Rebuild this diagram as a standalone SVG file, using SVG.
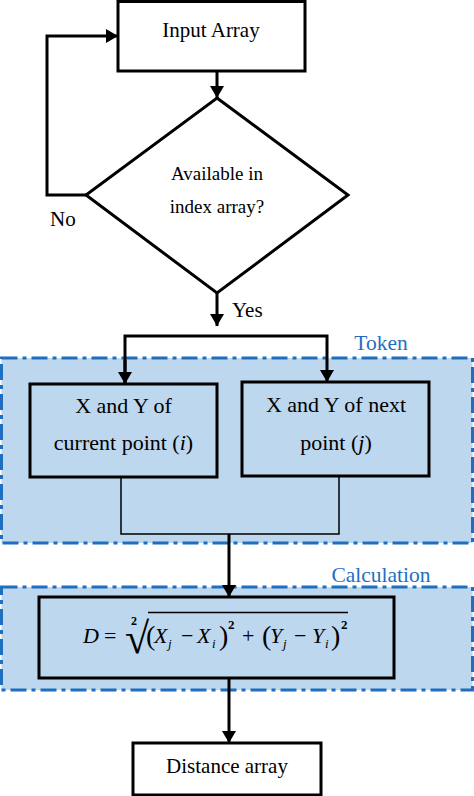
<svg xmlns="http://www.w3.org/2000/svg" width="474" height="796" viewBox="0 0 474 796">
<style>
.box{fill:#ffffff;stroke:#000;stroke-width:3}
.bbox{fill:#bdd7ee;stroke:#000;stroke-width:3}
.region{fill:#bdd7ee;stroke:#1f6fc0;stroke-width:3;stroke-dasharray:16,5,4,5}
.t{font-family:"Liberation Serif","Times New Roman",serif;font-size:21px;fill:#000}
.lbl{font-family:"Liberation Serif","Times New Roman",serif;font-size:21.5px;fill:#1f6fc0}
.m{font-family:"Liberation Serif","Times New Roman",serif;fill:#000}
.line{fill:none;stroke:#000;stroke-width:3}
.thin{fill:none;stroke:#000;stroke-width:1.5}
</style>
<defs>
<marker id="ah" markerWidth="12" markerHeight="14" refX="12" refY="7" orient="auto" markerUnits="userSpaceOnUse" viewBox="0 0 12 14">
<path d="M0,0 L12,7 L0,14 Z" fill="#000"/>
</marker>
</defs>

<g id="region-token">
<rect class="region" x="1.5" y="358" width="471" height="185"/>
<text class="lbl" x="381" y="350" text-anchor="middle">Token</text>
</g>
<g id="region-calculation">
<rect class="region" x="1.5" y="587" width="471" height="103"/>
<text class="lbl" x="381" y="582" text-anchor="middle">Calculation</text>
</g>

<g id="input-array">
<rect class="box" x="118" y="1.5" width="187" height="69.5"/>
<text class="t" x="211" y="37" text-anchor="middle">Input Array</text>
</g>

<g id="decision">
<polygon class="box" points="217,98 348,195 217,293 86,195"/>
<text class="t" style="font-size:19px" x="217" y="180" text-anchor="middle">Available in</text>
<text class="t" style="font-size:19px" x="217" y="213" text-anchor="middle">index array?</text>
</g>

<g id="current-point">
<rect class="bbox" x="30" y="384" width="187" height="93"/>
<text class="t" style="font-size:22px" x="123.5" y="413" text-anchor="middle">X and Y of</text>
<text class="t" style="font-size:22px" x="123.5" y="450" text-anchor="middle">current point (<tspan font-style="italic">i</tspan>)</text>
</g>

<g id="next-point">
<rect class="bbox" x="242" y="382" width="187" height="94"/>
<text class="t" style="font-size:22px" x="336" y="412" text-anchor="middle">X and Y of next</text>
<text class="t" style="font-size:22px" x="336" y="450" text-anchor="middle">point (<tspan font-style="italic">j</tspan>)</text>
</g>

<g id="formula">
<rect class="bbox" x="39" y="597" width="355" height="81"/>
<text class="m" style="font-size:22px;font-style:italic" x="83" y="643">D</text>
<text class="m" style="font-size:22px" x="104" y="643">=</text>
<text class="m" style="font-size:12px;font-weight:bold" x="131" y="625">2</text>
<text class="m" style="font-size:44px" x="125" y="653">√</text>
<line x1="148" y1="612.5" x2="348" y2="612.5" stroke="#000" stroke-width="1.5"/>
<text class="m" style="font-size:28px" x="146" y="645">(</text>
<text class="m" style="font-size:22px;font-style:italic" x="154" y="643">X</text>
<text class="m" style="font-size:13px;font-style:italic" x="168" y="648">j</text>
<text class="m" style="font-size:22px" x="181" y="643">−</text>
<text class="m" style="font-size:22px;font-style:italic" x="197" y="643">X</text>
<text class="m" style="font-size:13px;font-style:italic" x="212" y="648">i</text>
<text class="m" style="font-size:28px" x="219" y="645">)</text>
<text class="m" style="font-size:13px;font-weight:bold" x="228" y="629">2</text>
<text class="m" style="font-size:22px" x="242" y="643">+</text>
<text class="m" style="font-size:28px" x="262" y="645">(</text>
<text class="m" style="font-size:22px;font-style:italic" x="270" y="643">Y</text>
<text class="m" style="font-size:13px;font-style:italic" x="283" y="648">j</text>
<text class="m" style="font-size:22px" x="294" y="643">−</text>
<text class="m" style="font-size:22px;font-style:italic" x="312" y="643">Y</text>
<text class="m" style="font-size:13px;font-style:italic" x="325" y="648">i</text>
<text class="m" style="font-size:28px" x="331" y="645">)</text>
<text class="m" style="font-size:13px;font-weight:bold" x="341" y="629">2</text>
</g>

<g id="distance-array">
<rect class="box" x="133" y="743" width="188" height="52"/>
<text class="t" x="227" y="773" text-anchor="middle">Distance array</text>
</g>

<g id="connectors">
<line class="line" x1="217" y1="71" x2="217" y2="98" marker-end="url(#ah)"/>
<polyline class="line" points="86,195 47,195 47,36 118,36" marker-end="url(#ah)"/>
<text class="t" x="50" y="226">No</text>
<line class="line" x1="217" y1="293" x2="217" y2="326" marker-end="url(#ah)"/>
<text class="t" x="232" y="317">Yes</text>
<polyline class="line" points="125,383 125,336 327,336 327,382" marker-end="url(#ah)"/>
<line class="line" x1="125" y1="360" x2="125" y2="384" marker-end="url(#ah)"/>
<polyline class="thin" points="121,477 121,534 339,534 339,476"/>
<line class="line" x1="229" y1="534" x2="229" y2="597" marker-end="url(#ah)"/>
<line class="line" x1="229" y1="678" x2="229" y2="743" marker-end="url(#ah)"/>
</g>
</svg>
